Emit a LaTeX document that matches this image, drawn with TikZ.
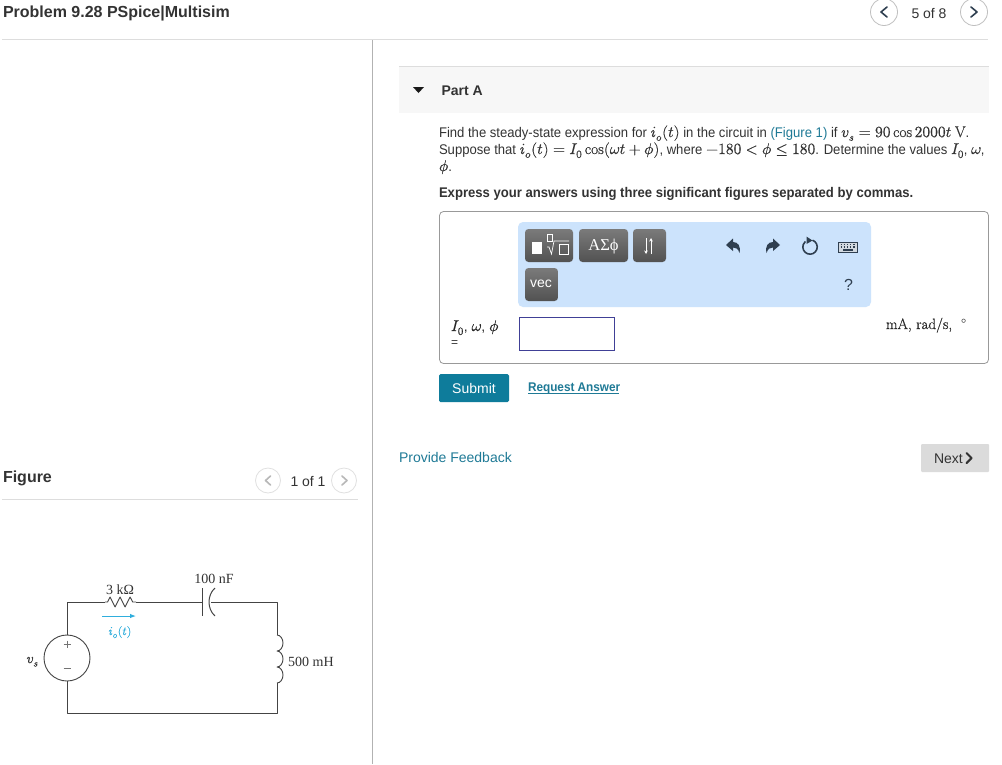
\documentclass[tikz,border=0pt]{standalone}
\usepackage{fontspec}
\usepackage{unicode-math}
\setmainfont{Liberation Sans}
\setmathfont[FakeBold=0.5]{Latin Modern Math}
\setmathrm[FakeBold=0.5]{Latin Modern Roman}
\newfontfamily\narrowf[FakeStretch=.935]{Liberation Sans}
\newfontfamily\serf{Liberation Serif}
\newfontfamily\lmr[FakeBold=0.4]{Latin Modern Roman}
\newfontfamily\lmplain{Latin Modern Roman}
\DeclareMathSizes{14}{15.5}{11}{9}
\DeclareMathSizes{12}{12}{9}{7}
\DeclareMathSizes{13}{14}{10}{8}
\usetikzlibrary{arrows.meta}
\definecolor{rule}{HTML}{DDDDDD}
\definecolor{ink}{HTML}{333333}
\definecolor{link}{HTML}{1F7A96}
\definecolor{teal}{HTML}{0E7C9B}
\definecolor{panel}{HTML}{CCE3FC}
\definecolor{icon}{HTML}{2F3F50}
\definecolor{wire}{HTML}{444444}
\definecolor{cyanA}{HTML}{2FAEDD}
\tikzset{
  txt/.style={anchor=base west,inner sep=0pt,outer sep=0pt,text=ink,font=\fontsize{14}{14}\selectfont},
  ntxt/.style={txt,font=\fontsize{14}{14}\selectfont\narrowf},
  boldtxt/.style={txt,font=\fontsize{14}{14}\selectfont\bfseries},
  rulel/.style={draw=rule,line width=1pt},
  pagerOn/.style={circle,draw=#1,line width=.8pt,minimum size=25pt,inner sep=0pt,fill=white},
  chev/.style={line width=1.6pt,line cap=round,line join=round},
  toolbtn/.style={rounded corners=3.5pt,top color=black!52,bottom color=black!68,draw=none},
  btntxt/.style={inner sep=0pt,text=white,font=\fontsize{14}{14}\selectfont},
  wirel/.style={draw=wire,line width=.9pt,line join=round},
  circ/.style={anchor=base,inner sep=0pt,text=black!80,font=\fontsize{14}{13}\selectfont\serf},
  iconf/.style={fill=icon,draw=none},
}
\begin{document}
\begin{tikzpicture}[x=1pt,y=-1pt]
\useasboundingbox (0,0) rectangle (1002,764);
\fill[white] (0,0) rectangle (1002,764);
% header
\node[boldtxt,font=\fontsize{16}{15}\selectfont\bfseries] (title) at (3,17) {Problem 9.28 PSpice|Multisim};
\node[pagerOn=black!25,minimum size=27pt] (prev) at (884,12) {};
\draw[chev,icon] (887,7) -- (881,12) -- (887,17);
\node[txt] (count) at (911.5,18) {5 of 8};
\node[pagerOn=black!25,minimum size=27pt] (next) at (974,12) {};
\draw[chev,icon] (971,7) -- (977,12) -- (971,17);
\draw[rulel] (2,39.5) -- (988,39.5);
\draw[draw=black!30,line width=1pt] (372.5,40) -- (372.5,764);
% part A
\fill[black!3] (399,67) rectangle (989,113);
\draw[rulel] (399,66.5) -- (989,66.5);
\fill[black!90] (413,87) -- (424,87) -- (418.5,93) -- cycle;
\node[boldtxt] (parta) at (441.5,95) {Part A};
\node[ntxt] (l1) at (439,137) {Find the steady-state expression for $i_o(t)$ in the circuit in \textcolor{link}{(Figure 1)} if $v_s = 90\,\mathrm{cos}\,2000t\ \mathrm{V}$.};
\node[ntxt] (l2) at (439,154) {Suppose that $i_o(t)=I_0\,\mathrm{cos}(\omega t+\phi)$, where $-180<\phi\leq 180$. Determine the values $I_0$, $\omega$,};
\node[ntxt] (l3) at (439,171) {$\phi$.};
\node[boldtxt,font=\fontsize{14}{14}\selectfont\narrowf\bfseries] (express) at (439,197) {Express your answers using three significant figures separated by commas.};
% answer box
\draw[draw=black!40,line width=.8pt,rounded corners=4pt] (439.5,211.5) rectangle (988.5,363.5);
\fill[panel,rounded corners=5pt] (518,222) rectangle (871,307);
\path[toolbtn] (525,229) rectangle (573,262);
\path[toolbtn] (579,229) rectangle (628,262);
\path[toolbtn] (633,229) rectangle (666,262);
\path[toolbtn] (525,268) rectangle (558,301);
\fill[white] (532,242) rectangle (542,254);
\draw[white,line width=.7pt] (547,247) -- (549,247) -- (551.5,254) -- (554,241) -- (569,241);
\draw[white,line width=.7pt] (559,244) rectangle (568,254);
\draw[white,line width=.7pt] (547.5,234.5) rectangle (552.5,241.5);
\node[btntxt,font=\fontsize{16.5}{15}\selectfont\serf] (greek) at (603.5,246.5) {ΑΣϕ};
\draw[white,line width=.9pt,-{Stealth[length=3.5pt,width=3.5pt]}] (646,238) -- (646,254);
\draw[white,line width=.9pt,-{Stealth[length=3.5pt,width=3.5pt]}] (651,254) -- (651,238);
\node[btntxt] (vec) at (541,284) {vec};
% undo / redo / reset / keyboard
\path[iconf] (726,245) -- (733,238.5) -- (733,242) .. controls (738,242) and (741,246) .. (739.5,253) .. controls (738,248.5) and (736,247.5) .. (733,247.5) -- (733,251) -- cycle;
\path[iconf] (780,245) -- (773,238.5) -- (773,242) .. controls (768,242) and (765,246) .. (766.5,253) .. controls (768,248.5) and (770,247.5) .. (773,247.5) -- (773,251) -- cycle;
\draw[icon,line width=1.6pt] (812.5,240.2) arc[start angle=-70,end angle=230,radius=7.2];
\fill[icon] (806.5,236.5) -- (812.5,240.5) -- (806.5,244) -- cycle;
\draw[icon,line width=.9pt,fill=panel!70!black!40] (838.5,242) rectangle (857.5,252.5);
\draw[icon,line width=1.2pt,dotted] (840.5,244.5) -- (855.5,244.5);
\draw[icon,line width=1.2pt,dotted] (840.5,247) -- (855.5,247);
\draw[icon,line width=1.2pt] (843,250) -- (853,250);
\node[anchor=base,inner sep=0pt,text=icon,font=\fontsize{16}{16}\selectfont] (help) at (848.5,290) {?};
% answer row
\node[txt,text=black!85] (var) at (451,331) {$I_0$, $\omega$, $\phi$};
\node[txt,font=\fontsize{12}{12}\selectfont] (eq) at (451,346) {=};
\node[draw=blue!45!black!75,line width=.8pt,fill=white,inner sep=0pt,minimum width=95pt,minimum height=33pt] (input) at (567,334) {};
\node[txt,text=black!85,font=\fontsize{15}{14}\selectfont\lmr] (units) at (886,329) {mA, rad/s,\hspace{9pt}{\lmplain °}};
% submit
\path[fill=teal,rounded corners=1.5pt] (439,374) rectangle (509,402);
\node[btntxt] (submit) at (474,388) {Submit};
\node[txt,text=link,font=\fontsize{12.6}{13}\selectfont\narrowf\bfseries] (req) at (528,391) {Request Answer};
\draw[link,line width=.8pt] (528,393.5) -- (619,393.5);
\node[txt,text=link] (fb) at (399,462) {Provide Feedback};
\path[fill=black!14,rounded corners=1pt] (921,444) rectangle (989,472);
\node[txt] (nx) at (934,463) {Next};
\draw[chev,line width=2.1pt,ink] (966.5,453) -- (971.5,458) -- (966.5,463);
% figure header
\node[boldtxt,font=\fontsize{16}{16}\selectfont\bfseries] (fig) at (3,482) {Figure};
\node[pagerOn=black!12] (fprev) at (268,480.5) {};
\draw[chev,black!28] (270.5,476) -- (265.5,480.5) -- (270.5,485);
\node[txt] (fcount) at (290.5,486) {1 of 1};
\node[pagerOn=black!12] (fnext) at (344,480.5) {};
\draw[chev,black!28] (342,476) -- (347,480.5) -- (342,485);
\draw[rulel] (2,499.5) -- (358,499.5);
% circuit
\node[circle,draw=wire,line width=.9pt,minimum size=46pt,inner sep=0pt] (src) at (67,658) {};
\coordinate (tl) at (67,602);
\coordinate (bl) at (67,713);
\coordinate (tr) at (277,602);
\coordinate (br) at (277,713);
\coordinate (ra) at (105,602);
\coordinate (rb) at (136,602);
\coordinate (ca) at (202,602);
\coordinate (cb) at (211,602);
\coordinate (la) at (277,635);
\coordinate (lb) at (277,683);
\draw[wirel] (src.north) -- (tl) -- (ra);
\draw[wirel] (ra) -- ++(2.5,0) -- ++(2.6,-5) -- ++(5,10) -- ++(5,-10) -- ++(5,10) -- ++(5,-10) -- ++(2.6,5) -- (rb);
\draw[wirel] (rb) -- (ca);
\draw[wirel,line width=1pt] (202,588) -- (202,616);
\draw[wirel,line width=1pt] (215,588) .. controls (207,595) and (207,609) .. (215,616);
\draw[wirel] (cb) -- (tr) -- (la);
\draw[wirel] (la) arc[start angle=-90,end angle=90,x radius=6,y radius=8] arc[start angle=-90,end angle=90,x radius=6,y radius=8] arc[start angle=-90,end angle=90,x radius=6,y radius=8];
\draw[wirel] (lb) -- (br) -- (bl) -- (src.south);
\draw[draw=black!55,line width=.8pt] (63.5,644) -- (70.5,644) (67,640.5) -- (67,647.5);
\draw[draw=black!55,line width=.8pt] (63.5,668.5) -- (70.5,668.5);
\coordinate (ia) at (102,616);
\coordinate (ib) at (136,616);
\draw[cyanA,line width=1pt,-{Latex[length=6pt,width=4.5pt]}] (ia) -- (ib);
\node[circ,text=cyanA,font=\fontsize{12}{12}\selectfont\serf] (io) at (120,635) {$i_o(t)$};
\node[circ,font=\fontsize{13}{13}\selectfont\serf] (vs) at (32.5,663) {$v_s$};
\node[circ] (rl) at (120,594) {3 kΩ};
\node[circ] (cl) at (214,583) {100 nF};
\node[circ,anchor=base west] (ll) at (288,666) {500 mH};
\end{tikzpicture}
\end{document}
